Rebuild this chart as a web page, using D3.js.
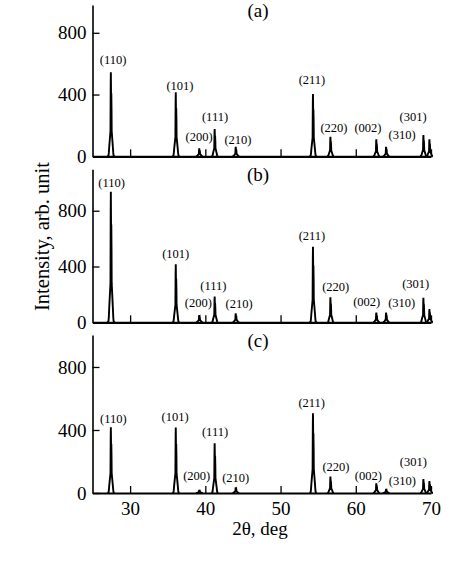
<!DOCTYPE html>
<html>
<head>
<meta charset="utf-8">
<script src="https://cdn.jsdelivr.net/npm/d3@7"></script>
<style>
  html, body { margin: 0; padding: 0; background: #fff; }
  svg { display: block; }
  svg text { font-family: "Liberation Serif", "Times New Roman", serif !important; fill: #000; }
</style>
</head>
<body>
<script>
// ---------------- DATA ----------------
const xDomain = [25, 70];
const xTickValues = [30, 40, 50, 60, 70];
const yTickValues = [0, 400, 800];
const panelNames = ["(a)", "(b)", "(c)"];
const axisMax = [980, 1097, 1003];

const hklLabels = ["(110)", "(101)", "(200)", "(111)", "(210)", "(211)", "(220)", "(002)", "(310)", "(301)", ""];
const peakPos   = [27.45, 36.08, 39.2, 41.25, 44.05, 54.32, 56.64, 62.74, 64.04, 69.0, 69.8];

const heightsA = [545, 415, 52, 177, 62, 404, 127, 110, 62, 138, 110];
const heightsB = [936, 416, 52, 184, 64, 542, 179, 69, 69, 176, 95];
const heightsC = [417, 415, 19, 315, 36, 506, 104, 62, 25, 89, 76];

// label anchor positions (2theta, intensity) per panel
const labelXA = [27.73, 36.63, 39.16, 41.29, 44.34, 54.18, 57.10, 61.62, 66.15, 67.61];
const labelYA = [624, 456, 125, 255, 106, 494, 183, 183, 138, 255];
const labelXB = [27.55, 36.06, 39.07, 41.06, 44.48, 54.18, 57.33, 61.45, 66.11, 67.97];
const labelYB = [1001, 490, 136, 260, 131, 619, 251, 148, 140, 275];
const labelXC = [27.77, 35.97, 38.85, 41.29, 44.04, 54.14, 57.37, 61.67, 66.19, 67.65];
const labelYC = [472, 481, 110, 385, 97, 570, 167, 110, 78, 199];

// peak outline template (offset in degrees, fraction of peak height) — drawing style only
const profileDx   = [-0.45, -0.32, -0.28, -0.22, -0.06, -0.03, -0.01, 0.02, 0.05, 0.08, 0.10, 0.25, 0.31, 0.35, 0.46];
const profileFrac = [0, 0.01, 0.04, 0.12, 0.3, 0.85, 1, 0.7, 0.75, 0.55, 0.3, 0.12, 0.04, 0.01, 0];

const panels = [
  { name: panelNames[0], max: axisMax[0], h: heightsA, lx: labelXA, ly: labelYA },
  { name: panelNames[1], max: axisMax[1], h: heightsB, lx: labelXB, ly: labelYB },
  { name: panelNames[2], max: axisMax[2], h: heightsC, lx: labelXC, ly: labelYC }
];

// ---------------- LAYOUT ----------------
const W = 474, H = 561;
const yBottom = [156.3, 322.3, 493];
const yTop = [5, 169.3, 335];
const serif = '"Liberation Serif", "Times New Roman", serif';

const svg = d3.select("body").append("svg").attr("width", W).attr("height", H);
const x = d3.scaleLinear().domain(xDomain).range([92.5, 431]);
const line = d3.line();

panels.forEach((p, i) => {
  const y = d3.scaleLinear().domain([0, p.max]).range([yBottom[i], yTop[i]]);
  const g = svg.append("g");

  // peaks
  p.h.forEach((hv, j) => {
    const pts = profileDx.map((dx, k) => [x(peakPos[j] + dx), y(hv * profileFrac[k])]);
    g.append("path").attr("d", line(pts))
      .attr("fill", "none").attr("stroke", "#000").attr("stroke-width", 1.9)
      .attr("stroke-linejoin", "miter").attr("stroke-miterlimit", 3);
  });

  // x axis (baseline)
  const xa = d3.axisBottom(x).tickValues(xTickValues).tickSizeInner(-7).tickSizeOuter(0)
    .tickPadding(9)
    .tickFormat(i === 2 ? d3.format("d") : () => "");
  const gx = g.append("g").attr("transform", `translate(0,${yBottom[i]})`).call(xa);
  gx.attr("font-family", serif);
  gx.select(".domain").attr("stroke-width", 2.2);
  gx.selectAll(".tick line").attr("stroke-width", 1.3);
  gx.selectAll("text").attr("font-size", 19).attr("fill", "#000");

  // y axis
  const ya = d3.axisLeft(y).tickValues(yTickValues).tickSizeInner(-7).tickSizeOuter(0)
    .tickPadding(6).tickFormat(d3.format("d"));
  const gy = g.append("g").attr("transform", `translate(${x(xDomain[0])},0)`).call(ya);
  gy.attr("font-family", serif);
  gy.select(".domain").attr("stroke-width", 1.6);
  gy.selectAll(".tick line").attr("stroke-width", 1.3);
  gy.selectAll("text").attr("font-size", 19).attr("fill", "#000");

  // panel letter
  g.append("text").attr("x", 258).attr("y", y(p.max) + 12)
    .attr("text-anchor", "middle").attr("font-size", 19).text(p.name);

  // hkl labels
  p.lx.forEach((lx, j) => {
    g.append("text").attr("x", x(lx)).attr("y", y(p.ly[j])).attr("dy", "0.32em")
      .attr("text-anchor", "middle").attr("font-size", 12.5).text(hklLabels[j]);
  });
});

// axis titles
svg.append("text").attr("x", 260).attr("y", 535).attr("text-anchor", "middle")
  .attr("font-size", 19).text("2θ, deg");
svg.append("text").attr("transform", "translate(49,236.5) rotate(-90)")
  .attr("text-anchor", "middle").attr("font-size", 20.5).text("Intensity, arb. unit");
</script>
</body>
</html>
